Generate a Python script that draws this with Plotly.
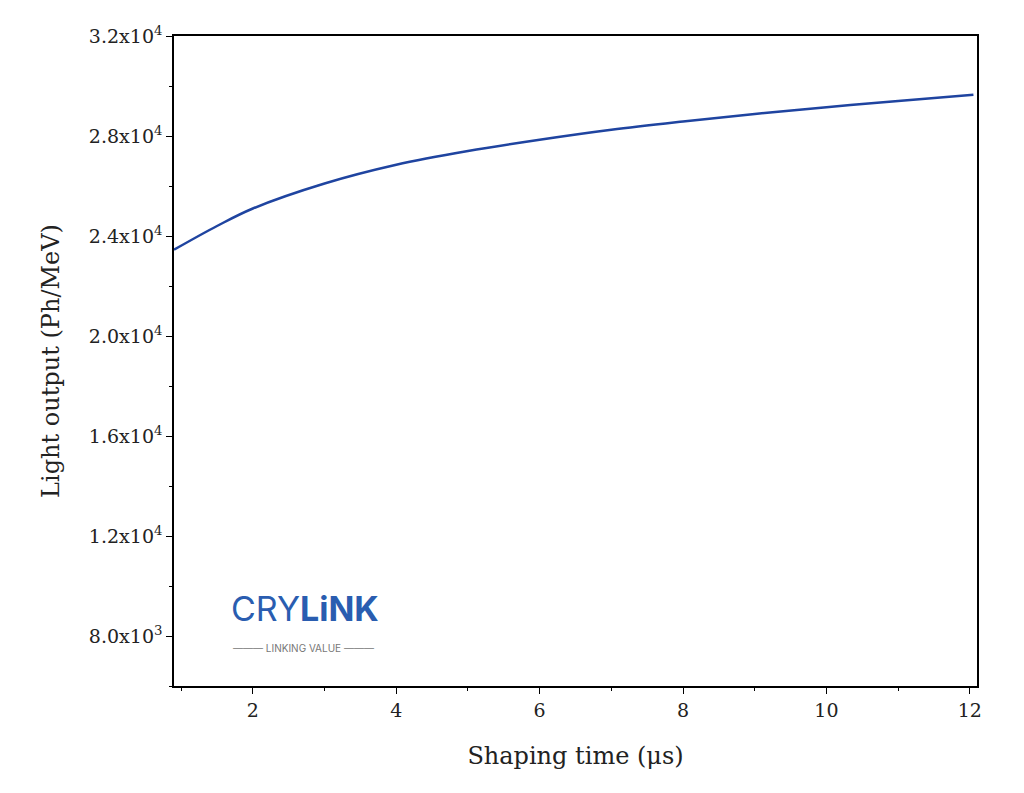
import plotly.graph_objects as go

x_vals = [0.9, 1.5, 2, 3, 4, 5, 6, 7, 8, 9, 10, 11, 12.05]
y_vals = [23450, 24400, 25100, 26100, 26850, 27400, 27850, 28250, 28580, 28880, 29150, 29400, 29650]
y_ticks = [8000, 12000, 16000, 20000, 24000, 28000, 32000]
y_labels = ["8.0x10<sup>3</sup>", "1.2x10<sup>4</sup>", "1.6x10<sup>4</sup>", "2.0x10<sup>4</sup>",
            "2.4x10<sup>4</sup>", "2.8x10<sup>4</sup>", "3.2x10<sup>4</sup>"]

font = "DejaVu Serif"
fig = go.Figure(go.Scatter(x=x_vals, y=y_vals, mode="lines", line=dict(color="#1f44a0", width=2.5, shape="spline")))
axis_common = dict(showgrid=False, zeroline=False, showline=True, linecolor="black", linewidth=1.5,
                   mirror=True, ticks="outside", tickcolor="black", ticklen=6,
                   minor=dict(ticks="outside", ticklen=3, tickcolor="black"),
                   tickfont=dict(family=font, size=19, color="#222"))
fig.update_xaxes(range=[0.9, 12.1], tickvals=[2, 4, 6, 8, 10, 12], minor_dtick=1,
                 title=dict(text="Shaping time (μs)", standoff=28, font=dict(family=font, size=24, color="#222")),
                 **axis_common)
fig.update_yaxes(range=[6000, 32000], tickvals=y_ticks, ticktext=y_labels, minor_dtick=2000,
                 title=dict(text="Light output (Ph/MeV)", standoff=22, font=dict(family=font, size=24, color="#222")),
                 **axis_common)
fig.add_annotation(x=0.069, y=0.085, xref="paper", yref="paper", text="CRY<b>LiNK</b>", showarrow=False,
                   font=dict(family="Inter", size=34, color="#2a5db0"), xanchor="left")
fig.add_annotation(x=0.071, y=0.046, xref="paper", yref="paper", text="——— LINKING VALUE ———", showarrow=False,
                   font=dict(family="Inter", size=10, color="#777"), xanchor="left")
fig.update_layout(width=1024, height=793, plot_bgcolor="white", paper_bgcolor="white",
                  margin=dict(l=166, r=55, t=28, b=115), showlegend=False)
fig.write_html("out.html")
